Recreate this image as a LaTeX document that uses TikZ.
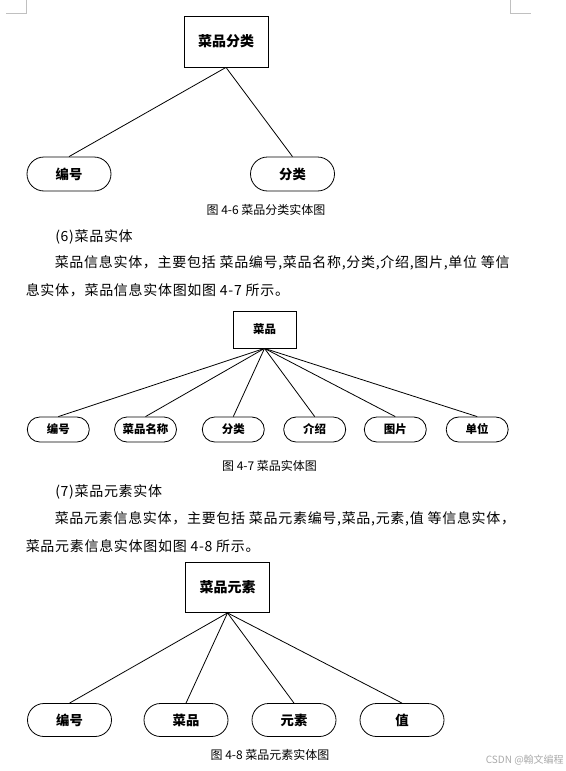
\documentclass[tikz,border=0pt]{standalone}
\usepackage{fontspec}
\newfontfamily\cjk{Noto Sans CJK SC}
\newfontfamily\cjkbody{Noto Sans CJK SC}[LetterSpace=5]
\usetikzlibrary{shapes.misc}
\definecolor{markgray}{RGB}{192,192,192}
\definecolor{wmgray}{RGB}{170,170,170}
\tikzset{
  entity/.style={draw,rectangle,inner sep=0pt,line width=0.6pt,font=\cjk\bfseries\fontsize{10.5}{12}\selectfont},
  attr/.style={draw,rounded rectangle,inner sep=0pt,line width=0.6pt,minimum width=63pt,minimum height=25.5pt,font=\cjk\bfseries\fontsize{10}{12}\selectfont},
  attrsmall/.style={attr,minimum width=46.5pt,minimum height=18.75pt,font=\cjk\bfseries\fontsize{8.6}{10}\selectfont},
  bodytext/.style={inner sep=0pt,anchor=west,font=\cjkbody\fontsize{10.5}{12}\selectfont},
  figcap/.style={inner sep=0pt,font=\cjk\fontsize{9}{11}\selectfont},
  link/.style={line width=0.6pt}
}
\begin{document}
\begin{tikzpicture}[x=0.75pt,y=-0.75pt]
  \useasboundingbox (0,0) rectangle (566,771);
  \coordinate (mlt) at (26,0);
  \coordinate (mlc) at (26,13);
  \coordinate (mle) at (6,13);
  \coordinate (mrt) at (510,0);
  \coordinate (mrc) at (510,13);
  \coordinate (mre) at (531,13);
  \draw[markgray,line width=0.75pt] (mlt) -- (mlc) -- (mle);
  \draw[markgray,line width=0.75pt] (mrt) -- (mrc) -- (mre);

  \node[entity,minimum width=63pt,minimum height=38.25pt] (cat) at (226,41.5) {菜品分类};
  \node[attr] (cat1) at (69,174) {编号};
  \node[attr] (cat2) at (292.5,174) {分类};
  \draw[link] (cat.south) -- (cat1.north);
  \draw[link] (cat.south) -- (cat2.north);
  \node[figcap] (cap6) at (266,210) {图 4-6 菜品分类实体图};

  \node[bodytext] (t6a) at (55,237) {(6)菜品实体};
  \node[bodytext] (t6b) at (54.5,263) {菜品信息实体，主要包括 菜品编号,菜品名称,分类,介绍,图片,单位 等信};
  \node[bodytext] (t6c) at (25.5,290.5) {息实体，菜品信息实体图如图 4-7 所示。};

  \node[entity,minimum width=47.25pt,minimum height=27.75pt,font=\cjk\bfseries\fontsize{8.6}{10}\selectfont] (dish) at (264.5,329.5) {菜品};
  \foreach \nm/\xp/\lab in {a/58.3/编号,b/145.5/菜品名称,c/233.3/分类,d/314.7/介绍,e/395.3/图片,f/477.2/单位}{
    \node[attrsmall] (dish\nm) at (\xp,429.5) {\lab};
    \draw[link] (dish.south) -- (dish\nm.north);
  }
  \node[figcap] (cap7) at (269.5,466) {图 4-7 菜品实体图};

  \node[bodytext] (t7a) at (55,492) {(7)菜品元素实体};
  \node[bodytext] (t7b) at (54.5,519) {菜品元素信息实体，主要包括 菜品元素编号,菜品,元素,值 等信息实体，};
  \node[bodytext] (t7c) at (25.5,546) {菜品元素信息实体图如图 4-8 所示。};

  \node[entity,minimum width=63pt,minimum height=37.5pt] (elem) at (227.5,587.5) {菜品元素};
  \node[attr,minimum height=24.75pt] (elem1) at (69.5,720) {编号};
  \node[attr,minimum height=24.75pt] (elem2) at (186,720) {菜品};
  \node[attr,minimum height=24.75pt] (elem3) at (294,720) {元素};
  \node[attr,minimum height=24.75pt] (elem4) at (402,720) {值};
  \draw[link] (elem.south) -- (elem1.north);
  \draw[link] (elem.south) -- (elem2.north);
  \draw[link] (elem.south) -- (elem3.north);
  \draw[link] (elem.south) -- (elem4.north);
  \node[figcap] (cap8) at (270,755) {图 4-8 菜品元素实体图};

  \node[inner sep=0pt,anchor=east,text=wmgray,font=\cjk\fontsize{7.5}{9}\selectfont] (wm) at (564,760) {CSDN @翰文编程};
\end{tikzpicture}
\end{document}
